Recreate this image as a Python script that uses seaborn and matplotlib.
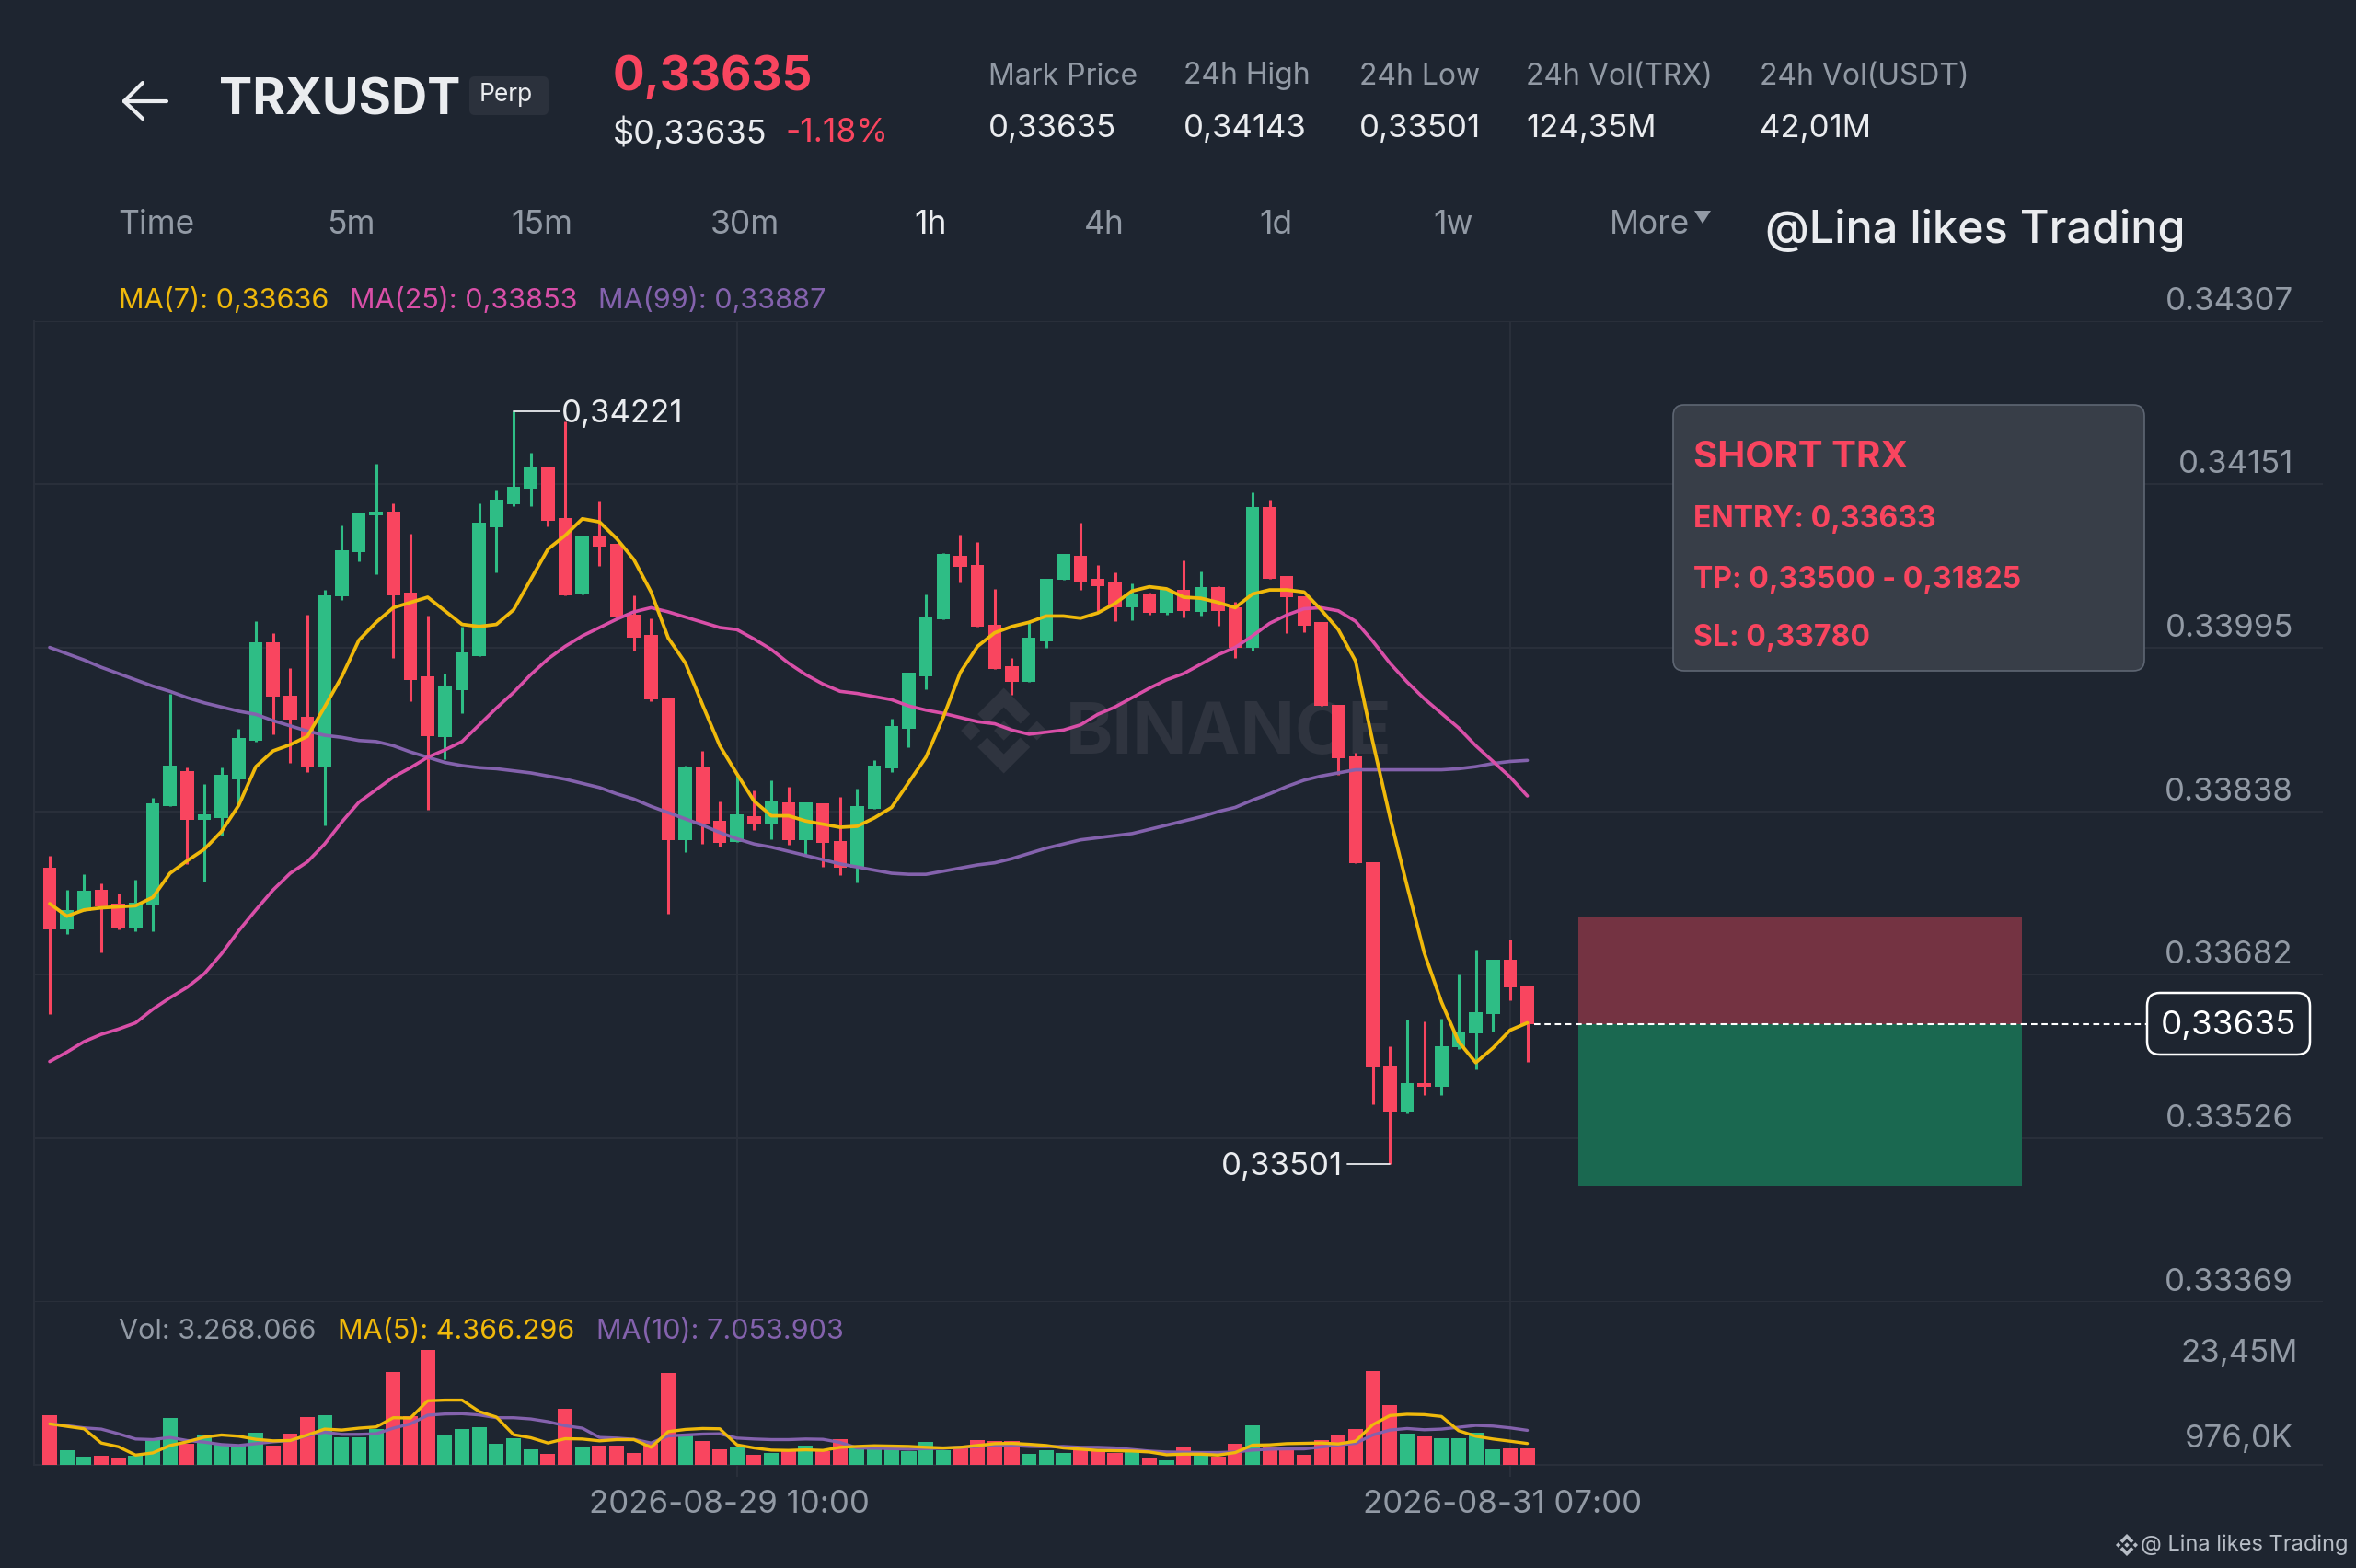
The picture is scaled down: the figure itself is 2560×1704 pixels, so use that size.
import numpy as np
import seaborn as sns
import matplotlib.pyplot as plt
from matplotlib.lines import Line2D
from matplotlib.patches import FancyBboxPatch, Polygon, Rectangle
from matplotlib.transforms import IdentityTransform, ScaledTranslation

# candles, in 1e-5 USDT
candle_high = [33796,33763,33778,33769,33760,33773,33851,33951,33880,33864,33880,33917,34020,34009,33975,34026,34050,34112,34123,34171,34133,34104,
               34025,33970,34015,34133,34145,34221,34181,34167,34211,34101,34135,34094,34045,34023,33947,33882,33896,33848,33872,33858,33868,33862,
               33847,33846,33852,33860,33887,33927,33971,34046,34085,34103,34096,34051,33985,34018,34061,34084,34114,34074,34067,34056,34047,34050,
               34078,34068,34054,34039,34143,34136,34063,34044,34019,33940,33894,33790,33614,33639,33637,33640,33682,33706,33696,33716,33672]
candle_low = [33644,33721,33743,33703,33725,33724,33724,33843,33788,33771,33815,33844,33905,33912,33885,33876,33825,34040,34077,34065,33985,33944,
              33840,33888,33932,33987,34067,34130,34130,34111,34045,34046,34073,34024,33992,33944,33740,33799,33807,33805,33809,33820,33812,33806,
              33797,33785,33777,33770,33841,33876,33900,33955,34022,34057,34015,33974,33950,33962,33995,34060,34050,34030,34020,34021,34026,34026,
              34024,34025,34016,33985,33992,34061,34009,34010,33939,33873,33789,33558,33501,33549,33567,33567,33611,33592,33628,33658,33599]
candle_open = [33784,33725,33743,33763,33750,33726,33748,33843,33877,33830,33832,33869,33906,34000,33949,33929,33880,34044,34086,34121,34125,34047,
               33967,33909,33954,33987,34110,34132,34147,34167,34119,34046,34101,34094,34026,34007,33947,33811,33880,33829,33809,33834,33826,33847,
               33811,33846,33810,33784,33841,33879,33917,33967,34022,34083,34074,34017,33977,33962,34001,34060,34083,34061,34057,34033,34046,34028,
               34050,34029,34053,34033,33995,34129,34063,34044,34019,33940,33891,33790,33595,33551,33578,33575,33613,33626,33644,33696,33672]
candle_close = [33725,33744,33762,33747,33726,33751,33846,33882,33830,33835,33873,33908,34000,33948,33926,33880,34045,34088,34123,34125,34045,33964,
                33910,33958,33990,34114,34136,34149,34168,34116,34045,34101,34091,34024,34004,33945,33811,33880,33826,33808,33835,33826,33848,33811,
                33847,33808,33784,33843,33882,33920,33971,34024,34084,34072,34015,33974,33962,34004,34061,34084,34058,34054,34033,34046,34028,34050,
                34030,34053,34030,33995,34129,34061,34043,34016,33939,33889,33789,33593,33551,33578,33575,33614,33628,33646,33696,33670,33635]
ma7 = [33750,33738,33744,33746,33747,33748,33756,33779,33791,33802,33819,33844,33881,33896,33902,33910,33938,33967,34002,34019,34033,34038,
       34043,34030,34017,34015,34017,34031,34060,34089,34102,34118,34115,34099,34079,34048,34004,33980,33940,33901,33874,33848,33834,33834,
       33829,33826,33823,33824,33832,33842,33866,33890,33928,33971,33996,34009,34015,34019,34025,34025,34023,34028,34037,34049,34053,34051,
       34043,34042,34038,34033,34046,34050,34050,34048,34031,34012,33982,33905,33833,33767,33703,33656,33618,33598,33612,33629,33636]
ma25 = [33599,33608,33618,33625,33630,33636,33649,33660,33670,33683,33702,33724,33744,33763,33779,33790,33807,33828,33847,33859,33871,33880,
        33890,33897,33905,33921,33937,33952,33969,33984,33996,34006,34014,34022,34029,34033,34029,34024,34019,34014,34012,34003,33993,33980,
        33969,33960,33953,33951,33948,33945,33939,33935,33932,33928,33924,33922,33916,33912,33914,33916,33921,33931,33938,33947,33956,33964,
        33970,33979,33988,33995,34006,34018,34026,34032,34033,34030,34020,34001,33980,33962,33946,33932,33918,33901,33886,33871,33853]
ma99 = [33995,33989,33983,33976,33970,33964,33958,33953,33947,33942,33938,33934,33931,33925,33920,33915,33911,33909,33906,33905,33901,33895,
        33890,33885,33882,33880,33879,33877,33875,33872,33869,33865,33861,33855,33850,33843,33837,33831,33825,33818,33812,33807,33804,33800,
        33796,33792,33788,33785,33782,33779,33778,33778,33781,33784,33787,33789,33793,33798,33803,33807,33811,33813,33815,33817,33821,33825,
        33829,33833,33838,33842,33849,33855,33862,33868,33872,33875,33878,33878,33878,33878,33878,33878,33879,33881,33884,33886,33887]

# volume, in millions
volume = [10.06,3.08,1.70,1.95,1.26,1.95,5.22,9.50,4.40,6.10,4.21,4.21,6.48,3.90,6.35,9.69,10.06,5.54,5.54,7.36,18.93,9.88,
          23.45,6.10,7.30,7.67,4.28,5.41,3.15,2.20,11.45,3.77,3.96,3.96,2.39,4.28,18.68,5.98,4.84,3.27,3.77,2.08,2.45,2.83,
          3.96,2.83,5.22,3.71,3.59,3.59,2.83,4.78,2.96,3.59,4.97,4.84,4.84,2.33,2.96,2.45,3.33,2.83,2.45,2.58,1.57,0.94,
          3.71,2.33,1.76,4.28,7.99,3.77,3.15,2.14,5.09,6.23,7.36,19.06,12.14,6.42,5.79,5.47,5.47,6.48,3.27,3.46,3.33]
vol_ma5 = [8.37,7.86,7.36,4.47,3.71,2.01,2.45,3.96,4.72,5.66,6.10,5.85,5.22,4.91,4.97,6.10,7.30,7.11,7.49,7.74,9.62,9.56,
           13.08,13.21,13.21,10.88,9.75,6.16,5.54,4.47,5.35,5.28,4.91,5.16,5.16,3.59,6.79,7.23,7.42,7.36,4.09,3.46,3.02,2.96,
           3.08,2.96,3.59,3.77,3.90,3.84,3.77,3.59,3.46,3.59,3.96,4.34,4.40,4.21,3.96,3.46,3.21,2.96,2.89,2.83,2.64,2.08,
           2.20,2.20,2.01,2.52,4.03,4.09,4.34,4.40,4.47,4.28,4.84,8.18,10.06,10.32,10.25,9.88,6.98,5.85,5.28,4.84,4.37]
vol_ma10 = [8.37,7.99,7.55,7.30,6.35,5.28,5.16,5.60,4.97,4.65,4.15,3.96,4.34,4.72,4.97,5.98,6.67,6.23,6.23,6.35,7.49,8.37,
            10.13,10.38,10.44,10.19,9.62,9.62,9.37,8.81,7.99,7.49,5.60,5.47,5.22,4.47,5.91,6.10,6.29,6.35,5.47,5.28,5.16,5.16,
            5.28,5.22,4.59,3.46,3.40,3.33,3.21,3.33,3.40,3.59,3.77,4.03,3.96,3.77,3.71,3.77,3.59,3.59,3.46,3.15,2.83,2.64,
            2.58,2.52,2.52,2.64,3.02,3.21,3.27,3.27,3.65,4.09,4.40,6.10,7.11,7.42,7.17,7.30,7.67,8.05,7.92,7.55,7.05]

price_ticks = [0.34307,0.34151,0.33995,0.33838,0.33682,0.33526,0.33369]
price_tick_labels = ["0.34307","0.34151","0.33995","0.33838","0.33682","0.33526","0.33369"]
date_ticks = [40,85]
date_labels = ["2026-08-29 10:00","2026-08-31 07:00"]
last_price = 0.33635
zone_top = 0.33738
zone_bottom = 0.33480
zone_start = 88.97
zone_end = 114.8

header_names = ["Mark Price","24h High","24h Low","24h Vol(TRX)","24h Vol(USDT)"]
header_values = ["0,33635","0,34143","0,33501","124,35M","42,01M"]
tabs = ["Time","5m","15m","30m","1h","4h","1d","1w","More"]

W, H = 2560, 1704
BG = "#1e2530"
GRID = "#2a303b"
RED = "#f9455f"
GREEN = "#2ebd85"
YELLOW = "#f0b90b"
PINK = "#d94fa8"
PURPLE = "#8462ad"
GRAY = "#929aa5"
WHITE = "#eaecef"

sns.set_theme(style="dark", rc={"axes.facecolor": BG, "figure.facecolor": BG})
plt.rcParams["font.family"] = ["Inter", "DejaVu Sans"]

open_ = np.array(candle_open) / 1e5
close = np.array(candle_close) / 1e5
high = np.array(candle_high) / 1e5
low = np.array(candle_low) / 1e5
idx = np.arange(len(open_))
up = close >= open_
colors = [GREEN if u else RED for u in up]
x_left, x_right = -0.91, 132.3


def fx(x):
    return x / W


def fy(y):
    return 1 - y / H


fig = plt.figure(figsize=(W / 100, H / 100), dpi=100)
ax = fig.add_axes([fx(37), fy(1415), fx(2524 - 37), (1415 - 349) / H])
ax_vol = fig.add_axes([fx(37), fy(1605), fx(2524 - 37), (1605 - 1415) / H])


def put(x, y, s, **kw):
    kw.setdefault("va", "center")
    return fig.text(fx(x), fy(y), s, **kw)


def binance_logo(target, cx, cy, scale, color, zorder):
    shapes = [
        [(38.73,53.2),(63.3,28.63),(87.89,53.22),(102.19,38.92),(63.3,0),(24.43,38.9)],
        [(0,63.31),(14.3,49.01),(28.6,63.31),(14.3,77.61)],
        [(38.73,73.41),(63.3,97.98),(87.89,73.39),(102.2,87.68),(63.3,126.61),(24.42,87.73)],
        [(97.99,63.31),(112.29,49.01),(126.61,63.31),(112.31,77.61)],
        [(77.83,63.3),(63.3,48.78),(48.79,63.28),(63.3,77.8)],
    ]
    for s in shapes:
        pts = [(cx + (u - 63.3) * scale, H - (cy + (v - 63.3) * scale)) for u, v in s]
        target.add_artist(Polygon(pts, closed=True, facecolor=color, edgecolor="none",
                                  transform=IdentityTransform(), zorder=zorder))


# price panel
ax.set_xlim(x_left, x_right)
ax.set_ylim(price_ticks[-1], price_ticks[0])
ax.set_yticks(price_ticks)
ax.set_xticks(date_ticks)
ax.grid(True, color=GRID, lw=1.4, zorder=0)
ax.set_axisbelow(True)
ax.tick_params(length=0, labelleft=False, labelbottom=False)
sns.despine(ax=ax, top=True, right=True, bottom=True)
ax.spines["left"].set_color(GRID)
ax.spines["left"].set_linewidth(1.4)

# watermark sits under the candles
binance_logo(ax, 1090.7, 794, 0.735, "#2f343f", 0.5)
ax.text(fx(1158), fy(799), "BINANCE", transform=fig.transFigure, color="#2f343f", fontsize=56,
        fontweight="bold", va="center", ha="left", zorder=0.6)

ax.vlines(idx, low, high, colors=colors, lw=2.2, zorder=2)
ax.bar(idx, np.abs(close - open_), bottom=np.minimum(open_, close), width=0.78, color=colors, lw=0, zorder=2)

sns.lineplot(x=idx, y=np.array(ma99) / 1e5, color=PURPLE, lw=2.6, errorbar=None, ax=ax, zorder=3)
sns.lineplot(x=idx, y=np.array(ma25) / 1e5, color=PINK, lw=2.6, errorbar=None, ax=ax, zorder=3)
sns.lineplot(x=idx, y=np.array(ma7) / 1e5, color=YELLOW, lw=2.7, errorbar=None, ax=ax, zorder=4)
ax.set_xlabel("")
ax.set_ylabel("")

for t, lab in zip(price_ticks, price_tick_labels):
    ax.annotate(lab, (2492 / (2524 - 37) - 37 / (2524 - 37), t), xycoords=("axes fraction", "data"),
                xytext=(0, 15), textcoords="offset points", ha="right", va="center",
                color=GRAY, fontsize=25, zorder=5)

# position zones and last price line
ax.add_patch(Rectangle((zone_start, last_price), zone_end - zone_start, zone_top - last_price,
                       facecolor="#743342", edgecolor="none", zorder=1.5))
ax.add_patch(Rectangle((zone_start, zone_bottom), zone_end - zone_start, last_price - zone_bottom,
                       facecolor="#1a6850", edgecolor="none", zorder=1.5))
ax.plot([86.4, 122.0], [last_price, last_price], color="white", lw=1.5, dashes=(3.2, 2.2), zorder=5)

# high and low marks
i_hi = int(np.argmax(high))
i_lo = int(np.argmin(low))
ax.plot([i_hi, i_hi + 2.7], [high[i_hi], high[i_hi]], color=WHITE, lw=1.3, zorder=5)
ax.plot([i_lo, i_lo - 2.5], [low[i_lo], low[i_lo]], color=WHITE, lw=1.3, zorder=5)
ax.annotate("0,34221", (i_hi + 2.75, high[i_hi]), xytext=(0, -2), textcoords="offset points",
            color=WHITE, fontsize=25, va="center", ha="left", zorder=5)
ax.annotate("0,33501", (i_lo - 2.75, low[i_lo]), xytext=(0, -2), textcoords="offset points",
            color=WHITE, fontsize=25, va="center", ha="right", zorder=5)

# volume panel
sns.barplot(x=idx, y=volume, hue=["up" if u else "down" for u in up], palette={"up": GREEN, "down": RED},
            dodge=False, width=0.86, native_scale=True, saturation=1, legend=False, errorbar=None, lw=0,
            ax=ax_vol, zorder=2)
sns.lineplot(x=idx, y=vol_ma10, color=PURPLE, lw=2.4, errorbar=None, ax=ax_vol, zorder=3)
sns.lineplot(x=idx, y=vol_ma5, color=YELLOW, lw=2.4, errorbar=None, ax=ax_vol, zorder=4)
ax_vol.set_xlim(x_left, x_right)
ax_vol.set_ylim(-2.44, 33.2)
ax_vol.set_yticks([0])
ax_vol.set_xticks(date_ticks)
ax_vol.set_xticklabels(date_labels, color=GRAY, fontsize=25)
ax_vol.grid(True, color=GRID, lw=1.4, zorder=0)
ax_vol.set_axisbelow(True)
ax_vol.tick_params(length=0, labelleft=False, pad=10)
ax_vol.set_xlabel("")
ax_vol.set_ylabel("")
sns.despine(ax=ax_vol, top=True, right=True, bottom=True)
ax_vol.spines["left"].set_color(GRID)
ax_vol.spines["left"].set_linewidth(1.4)
ax_vol.spines["left"].set_bounds(0, 33.2)
for lbl in ax_vol.get_xticklabels():
    lbl.set_transform(lbl.get_transform() + ScaledTranslation(-8 / 100, 0, fig.dpi_scale_trans))

# header
for (x0, y0), (x1, y1) in [(((135, 110)), (181, 110)), ((135, 110), (155, 90)), ((135, 110), (155, 129))]:
    fig.add_artist(Line2D([fx(x0), fx(x1)], [fy(y0), fy(y1)], color=WHITE, lw=3, solid_capstyle="round"))
put(238, 110, "TRXUSDT", color=WHITE, fontsize=39, fontweight="bold")
fig.add_artist(FancyBboxPatch((510, H - 125), 86, 42, boxstyle="round,pad=0,rounding_size=6",
                              facecolor="#2b313c", edgecolor="none", transform=IdentityTransform()))
put(521, 103, "Perp", color=WHITE, fontsize=19)
put(666, 85, "0,33635", color=RED, fontsize=37, fontweight="bold")
put(666, 145, "$0,33635", color=WHITE, fontsize=26)
put(854, 145, "-1.18%", color=RED, fontsize=25.5)

header_x = [1074, 1286, 1477, 1658, 1912]
for x, name, value in zip(header_x, header_names, header_values):
    put(x, 83, name, color=GRAY, fontsize=23)
    put(x, 140, value, color=WHITE, fontsize=25)

tab_x = [128, 355, 555, 772, 993, 1178, 1368, 1557, 1749]
for x, t in zip(tab_x, tabs):
    put(x, 244, t, color=WHITE if t == "1h" else GRAY, fontsize=25.5)
fig.add_artist(Polygon([(1841, H - 229), (1859, H - 229), (1850, H - 243)], closed=True, facecolor=GRAY,
                       edgecolor="none", transform=IdentityTransform()))
put(1918, 250, "@Lina likes Trading", color=WHITE, fontsize=35, fontweight="medium")

put(129, 326, "MA(7): 0,33636", color=YELLOW, fontsize=22)
put(380, 326, "MA(25): 0,33853", color=PINK, fontsize=22)
put(650, 326, "MA(99): 0,33887", color=PURPLE, fontsize=22)

put(129, 1447, "Vol: 3.268.066", color=GRAY, fontsize=22)
put(367, 1447, "MA(5): 4.366.296", color=YELLOW, fontsize=22)
put(648, 1447, "MA(10): 7.053.903", color=PURPLE, fontsize=22)
put(2497, 1471, "23,45M", color=GRAY, fontsize=25, ha="right")
put(2492, 1564, "976,0K", color=GRAY, fontsize=25, ha="right")

# info box
fig.add_artist(FancyBboxPatch((1818, H - 729), 512, 289, boxstyle="round,pad=0,rounding_size=12",
                              facecolor="#383e48", edgecolor="#5e6673", lw=1.2, transform=IdentityTransform(), zorder=2))
put(1840, 498, "SHORT TRX", color=RED, fontsize=29, fontweight="bold", zorder=3)
put(1840, 564, "ENTRY: 0,33633", color=RED, fontsize=23, fontweight="bold", zorder=3)
put(1840, 631, "TP: 0,33500 - 0,31825", color=RED, fontsize=23, fontweight="bold", zorder=3)
put(1840, 694, "SL: 0,33780", color=RED, fontsize=23, fontweight="bold", zorder=3)

# last price tag
fig.add_artist(FancyBboxPatch((2333, H - 1146), 177, 67, boxstyle="round,pad=0,rounding_size=14",
                              facecolor=BG, edgecolor="white", lw=1.8, transform=IdentityTransform(), zorder=2))
put(2422, 1115, "0,33635", color="white", fontsize=26.5, ha="center", zorder=3)

# footer
binance_logo(fig, 2311, 1679, 0.19, "#b7bdc6", 2)
put(2552, 1679, "@ Lina likes Trading", color="#b7bdc6", fontsize=17, ha="right")

fig.savefig("out.png", dpi=100, facecolor=BG)
